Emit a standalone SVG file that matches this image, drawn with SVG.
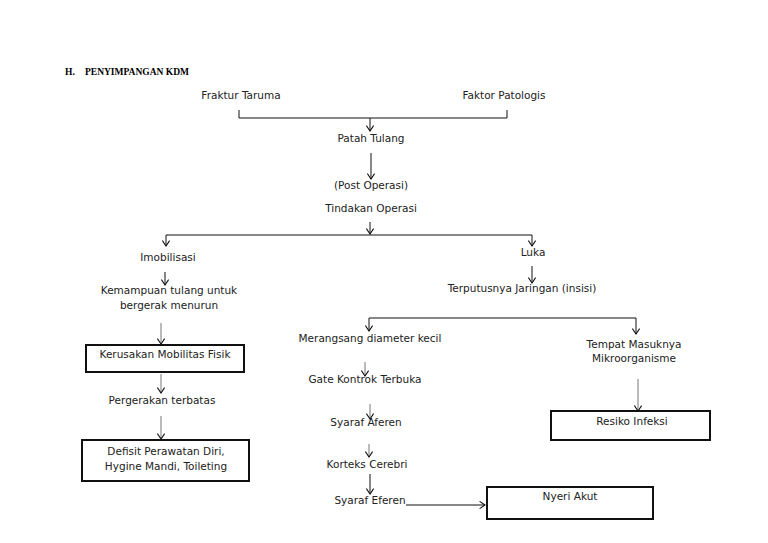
<svg xmlns="http://www.w3.org/2000/svg" width="768" height="543" viewBox="0 0 768 543">
<style>
text{font-family:"DejaVu Sans",sans-serif;font-size:10.5px;fill:#222;text-anchor:middle}
.t{font-family:"Liberation Serif",serif;font-weight:bold;font-size:9.5px;text-anchor:start;fill:#000}
.c{stroke:#111;stroke-width:1;fill:none}
.g{stroke:#777}
.b{fill:#fff;stroke:#111;stroke-width:2}
</style>
<defs><marker id="a" viewBox="0 0 10 10" refX="9" refY="5" markerWidth="9" markerHeight="9" orient="auto" markerUnits="userSpaceOnUse"><path d="M3,1 L9,5 L3,9" fill="none" stroke="#111" stroke-width="1.2"/></marker></defs>
<rect width="768" height="543" fill="#fff"/>
<text class="t" x="65" y="75">H.</text><text class="t" x="85" y="75">PENYIMPANGAN KDM</text>
<g id="connectors">
<path class="c" d="M239,110 V118 H507 V110"/>
<path class="c" d="M370,118 V131" marker-end="url(#a)"/>
<path class="c" d="M371,153 V179" marker-end="url(#a)"/>
<path class="c" d="M370,222 V234" marker-end="url(#a)"/>
<path class="c" d="M166,235 H532"/>
<path class="c" d="M166,235 V246" marker-end="url(#a)"/>
<path class="c" d="M532,235 V246" marker-end="url(#a)"/>
<path class="c" d="M165,272 V285" marker-end="url(#a)"/>
<path class="c" d="M532,266 V283" marker-end="url(#a)"/>
<path class="c" d="M369,318 H636"/>
<path class="c" d="M369,318 V331" marker-end="url(#a)"/>
<path class="c" d="M636,318 V334" marker-end="url(#a)"/>
<path class="c g" d="M161,323 V344" marker-end="url(#a)"/>
<path class="c g" d="M161,374 V393" marker-end="url(#a)"/>
<path class="c g" d="M161,416 V439" marker-end="url(#a)"/>
<path class="c g" d="M365,362 V376" marker-end="url(#a)"/>
<path class="c g" d="M370,404 V419" marker-end="url(#a)"/>
<path class="c g" d="M369,444 V457" marker-end="url(#a)"/>
<path class="c" d="M370,474 V494" marker-end="url(#a)"/>
<path class="c" d="M406,505 H485" marker-end="url(#a)"/>
<path class="c g" d="M638,379 V411" marker-end="url(#a)"/>
</g>
<g id="n1"><text x="241" y="99">Fraktur Taruma</text></g>
<g id="n2"><text x="504" y="99">Faktor Patologis</text></g>
<g id="n3"><text x="371" y="142">Patah Tulang</text></g>
<g id="n4"><text x="371" y="189">(Post Operasi)</text></g>
<g id="n5"><text x="371" y="212">Tindakan Operasi</text></g>
<g id="n6"><text x="168" y="261">Imobilisasi</text></g>
<g id="n7"><text x="533" y="256">Luka</text></g>
<g id="n8"><text x="169" y="294">Kemampuan tulang untuk</text><text x="169" y="309">bergerak menurun</text></g>
<g id="n9"><text x="522" y="292">Terputusnya Jaringan (insisi)</text></g>
<g id="n10"><rect class="b" x="86" y="345" width="158" height="27"/><text x="165" y="358">Kerusakan Mobilitas Fisik</text></g>
<g id="n11"><text x="162" y="404">Pergerakan terbatas</text></g>
<g id="n12"><rect class="b" x="82" y="440" width="167" height="41"/><text x="166" y="455">Defisit Perawatan Diri,</text><text x="166" y="470">Hygine Mandi, Toileting</text></g>
<g id="n13"><text x="370" y="342">Merangsang diameter kecil</text></g>
<g id="n14"><text x="634" y="348">Tempat Masuknya</text><text x="634" y="362">Mikroorganisme</text></g>
<g id="n15"><text x="365" y="383">Gate Kontrok Terbuka</text></g>
<g id="n16"><text x="366" y="426">Syaraf Aferen</text></g>
<g id="n17"><text x="367" y="468">Korteks Cerebri</text></g>
<g id="n18"><text x="370" y="504">Syaraf Eferen</text></g>
<g id="n19"><rect class="b" x="487" y="487" width="166" height="32"/><text x="570" y="500">Nyeri Akut</text></g>
<g id="n20"><rect class="b" x="551" y="411" width="159" height="29"/><text x="632" y="425">Resiko Infeksi</text></g>
</svg>
